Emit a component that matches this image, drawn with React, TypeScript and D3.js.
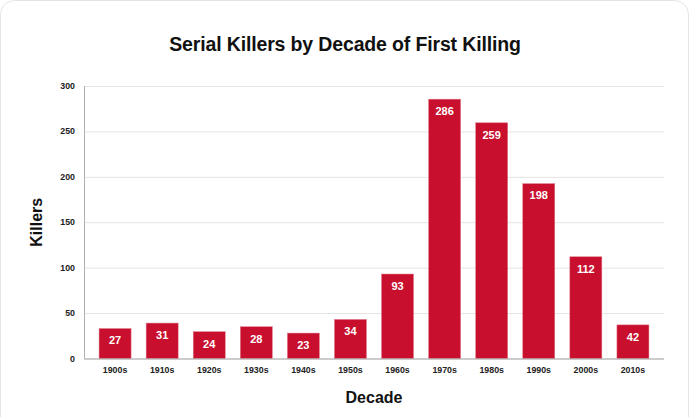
import { useEffect, useRef } from 'react';
import * as d3 from 'd3';

const decades = ['1900s', '1910s', '1920s', '1930s', '1940s', '1950s', '1960s', '1970s', '1980s', '1990s', '2000s', '2010s'];
// bar heights as drawn in the picture
const barHeights = [33, 39, 29.5, 35, 28, 43, 93, 285.5, 259.5, 192.5, 112, 37];
// numbers printed inside the bars
const barLabels = ['27', '31', '24', '28', '23', '34', '93', '286', '259', '198', '112', '42'];
const yTicks = [0, 50, 100, 150, 200, 250, 300];

const W = 689;
const H = 417;
const FONT = '"Liberation Sans", Arial, Helvetica, sans-serif';

export default function App() {
  const ref = useRef<SVGSVGElement>(null);

  useEffect(() => {
    const el = ref.current;
    if (!el) return;
    const svg = d3.select(el);
    svg.selectAll('*').remove();

    const margin = { top: 86, right: 25, bottom: 59, left: 84 };
    const innerW = W - margin.left - margin.right;
    const bottom = 358.5;

    // card
    svg.append('rect')
      .attr('x', 0.5).attr('y', 0.5)
      .attr('width', W - 1).attr('height', H + 40)
      .attr('rx', 14)
      .attr('fill', '#fff')
      .attr('stroke', '#e4e4e4');

    const x = d3.scaleBand<string>()
      .domain(decades)
      .range([margin.left, margin.left + innerW])
      .padding(0.32);
    const y = d3.scaleLinear().domain([0, 300]).range([bottom, margin.top]);

    // grid
    svg.append('g').selectAll('line')
      .data(yTicks.filter(d => d > 0))
      .join('line')
      .attr('x1', margin.left).attr('x2', margin.left + innerW)
      .attr('y1', d => y(d) + 0.5).attr('y2', d => y(d) + 0.5)
      .attr('stroke', '#e3e3e3');

    // y tick labels
    svg.append('g').selectAll('text')
      .data(yTicks)
      .join('text')
      .attr('x', 75)
      .attr('y', d => y(d))
      .attr('dy', '0.35em')
      .attr('text-anchor', 'end')
      .attr('font-family', FONT)
      .attr('font-weight', 700)
      .attr('font-size', 8.8)
      .attr('fill', '#222')
      .text(d => d);

    // bars
    const g = svg.append('g');
    g.selectAll('rect')
      .data(barHeights)
      .join('rect')
      .attr('x', (_, i) => x(decades[i])!)
      .attr('y', d => y(d))
      .attr('width', x.bandwidth())
      .attr('height', d => bottom - y(d))
      .attr('fill', '#c8102e')
      .attr('stroke', '#e07a8a')
      .attr('stroke-width', 0.5);

    g.selectAll('text')
      .data(barHeights)
      .join('text')
      .attr('x', (_, i) => x(decades[i])! + x.bandwidth() / 2)
      .attr('y', d => y(d) + 12)
      .attr('dy', '0.35em')
      .attr('text-anchor', 'middle')
      .attr('font-family', FONT)
      .attr('font-weight', 700)
      .attr('font-size', 11)
      .attr('fill', '#fff')
      .text((_, i) => barLabels[i]);

    // axes lines
    svg.append('line')
      .attr('x1', margin.left + 0.5).attr('x2', margin.left + 0.5)
      .attr('y1', margin.top).attr('y2', bottom)
      .attr('stroke', '#b0b0b0');
    svg.append('line')
      .attr('x1', margin.left).attr('x2', margin.left + innerW)
      .attr('y1', bottom + 0.5).attr('y2', bottom + 0.5)
      .attr('stroke', '#999');

    // x tick labels
    svg.append('g').selectAll('text')
      .data(decades)
      .join('text')
      .attr('x', d => x(d)! + x.bandwidth() / 2)
      .attr('y', 370)
      .attr('dy', '0.35em')
      .attr('text-anchor', 'middle')
      .attr('font-family', FONT)
      .attr('font-weight', 700)
      .attr('font-size', 8.8)
      .attr('fill', '#222')
      .text(d => d);

    // titles
    svg.append('text')
      .attr('x', 345).attr('y', 51)
      .attr('text-anchor', 'middle')
      .attr('font-family', FONT)
      .attr('font-weight', 700)
      .attr('font-size', 19.5)
      .attr('letter-spacing', -0.15)
      .attr('fill', '#111')
      .text('Serial Killers by Decade of First Killing');

    svg.append('text')
      .attr('x', margin.left + innerW / 2).attr('y', 403)
      .attr('text-anchor', 'middle')
      .attr('font-family', FONT)
      .attr('font-weight', 700)
      .attr('font-size', 16)
      .attr('fill', '#111')
      .text('Decade');

    svg.append('text')
      .attr('transform', `translate(42,${(margin.top + bottom) / 2}) rotate(-90)`)
      .attr('text-anchor', 'middle')
      .attr('font-family', FONT)
      .attr('font-weight', 700)
      .attr('font-size', 16)
      .attr('fill', '#111')
      .text('Killers');
  }, []);

  return (
    <svg
      ref={ref}
      width={W}
      height={H}
      style={{ position: 'absolute', left: 0, top: 0, display: 'block', background: '#fff' }}
    />
  );
}
